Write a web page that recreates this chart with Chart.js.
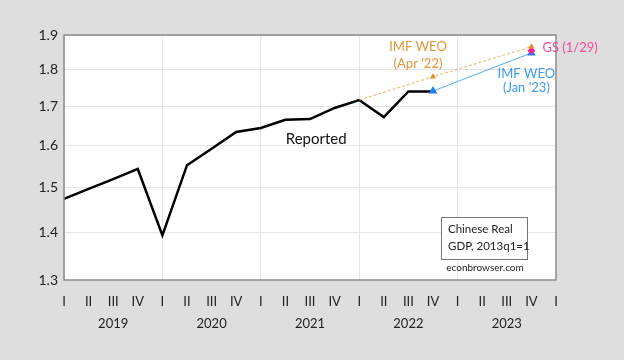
<!DOCTYPE html>
<html>
<head>
<meta charset="utf-8">
<script src="https://cdn.jsdelivr.net/npm/chart.js@4.4.1/dist/chart.umd.min.js"></script>
<style>
  html, body { margin: 0; padding: 0; background: #dedede; }
  #wrap { width: 624px; height: 360px; }
</style>
</head>
<body>
<div id="wrap"><canvas id="gdpChart"></canvas></div>
<script>
// Chinese real GDP, 2013q1=1 (log scale)
const quarters = ['I', 'II', 'III', 'IV', 'I', 'II', 'III', 'IV', 'I', 'II', 'III', 'IV',
    'I', 'II', 'III', 'IV', 'I', 'II', 'III', 'IV', 'I'];
const years = ['2019', '2020', '2021', '2022', '2023'];
const yTicks = [1.3, 1.4, 1.5, 1.6, 1.7, 1.8, 1.9];

const reported = [1.474, 1.497, 1.520, 1.544, 1.393, 1.553, 1.593, 1.635, 1.645, 1.666, 1.668, 1.697,
    1.718, 1.673, 1.741, 1.741, null, null, null, null, null];
const imfApr22 = [null, null, null, null, null, null, null, null, null, null, null, null,
    1.718, null, null, 1.781, null, null, null, 1.866, null];
const imfJan23 = [null, null, null, null, null, null, null, null, null, null, null, null,
    null, null, null, 1.742, null, null, null, 1.848, null];
const gsJan29 = [null, null, null, null, null, null, null, null, null, null, null, null,
    null, null, null, null, null, null, null, 1.854, null];

// year name goes under the III label of each year
const labels = quarters.map(function (q, i) {
    const y = Math.floor(i / 4);
    return (i % 4 === 2 && years[y]) ? [q, years[y]] : q;
});

const FONT = 'Lato, "Open Sans", sans-serif';

const frame = {
    id: 'frame',
    beforeDraw: function (chart) {
        const c = chart.ctx, a = chart.chartArea;
        c.save();
        c.fillStyle = '#dedede';
        c.fillRect(0, 0, chart.width, chart.height);
        c.fillStyle = '#ffffff';
        c.fillRect(a.left, a.top, a.right - a.left, a.bottom - a.top);
        c.restore();
    },
    afterDatasetsDraw: function (chart) {
        const c = chart.ctx, a = chart.chartArea;
        const x = chart.scales.x, y = chart.scales.y;
        c.save();
        c.strokeStyle = '#8a8a8a';
        c.lineWidth = 1.5;
        c.strokeRect(a.left, a.top, a.right - a.left, a.bottom - a.top);

        c.textAlign = 'center';
        c.textBaseline = 'middle';
        c.font = '15px ' + FONT;
        c.fillStyle = '#111';
        c.fillText('Reported', x.getPixelForValue(10.25), y.getPixelForValue(1.618));

        c.font = '13px ' + FONT;
        c.fillStyle = '#e0973a';
        const xo = x.getPixelForValue(15) - 15;
        c.fillText('IMF WEO', xo, y.getPixelForValue(1.866));
        c.fillText("(Apr '22)", xo, y.getPixelForValue(1.816));

        c.fillStyle = '#3d9bf5';
        const xb = x.getPixelForValue(19) - 5;
        c.fillText('IMF WEO', xb, y.getPixelForValue(1.789));
        c.fillText("(Jan '23)", xb, y.getPixelForValue(1.750));

        c.fillStyle = '#ee4a9c';
        c.textAlign = 'left';
        c.fillText('GS (1/29)', x.getPixelForValue(19) + 11, y.getPixelForValue(1.862));

        // note box
        c.fillStyle = '#ffffff';
        c.strokeStyle = '#777';
        c.lineWidth = 1;
        c.fillRect(441, 217, 86, 42);
        c.strokeRect(441.5, 217.5, 86, 42);
        c.fillStyle = '#222';
        c.font = '11.5px ' + FONT;
        c.fillText('Chinese Real', 448, 229);
        c.fillText('GDP, 2013q1=1', 448, 246);
        c.textAlign = 'center';
        c.font = '10px ' + FONT;
        c.fillText('econbrowser.com', 485, 268);
        c.restore();
    }
};

const ctx = document.getElementById('gdpChart').getContext('2d');
const gdpChart = new Chart(ctx, {
    type: 'line',
    data: {
        labels: labels,
        datasets: [{
            label: 'IMF WEO (Apr 22)',
            data: imfApr22,
            borderColor: '#f0b060',
            backgroundColor: '#e58a20',
            borderWidth: 1,
            borderDash: [3, 2],
            spanGaps: true,
            pointStyle: 'triangle',
            pointRadius: function (c) { return c.dataIndex === 12 ? 0 : 3.5; },
            pointBorderWidth: 0,
            order: 1
        }, {
            label: 'GS (1/29)',
            data: gsJan29,
            showLine: false,
            backgroundColor: '#f02a8a',
            borderColor: '#f02a8a',
            pointStyle: 'rectRot',
            pointRadius: 4,
            pointBorderWidth: 0,
            order: 2
        }, {
            label: 'IMF WEO (Jan 23)',
            data: imfJan23,
            borderColor: '#5aaaf5',
            backgroundColor: '#1a7ff0',
            borderWidth: 1,
            spanGaps: true,
            pointStyle: 'triangle',
            pointRadius: 5,
            pointBorderWidth: 0,
            order: 3
        }, {
            label: 'Reported',
            data: reported,
            borderColor: '#000000',
            borderWidth: 2.5,
            pointRadius: 0,
            tension: 0,
            order: 4
        }]
    },
    options: {
        responsive: true,
        maintainAspectRatio: false,
        animation: false,
        layout: { padding: { left: 0, right: 68, top: 35, bottom: 10 } },
        plugins: {
            legend: { display: false },
            tooltip: { enabled: false }
        },
        scales: {
            x: {
                type: 'category',
                offset: false,
                grid: {
                    color: function (c) { return (c.index % 4 === 0) ? '#e6e6e6' : 'rgba(0,0,0,0)'; },
                    drawTicks: false
                },
                border: { display: false },
                ticks: {
                    autoSkip: false,
                    maxRotation: 0,
                    padding: 10,
                    color: '#222',
                    font: { family: FONT, size: 13, lineHeight: 1.75 }
                },
                afterFit: function (s) { s.height = 70; }
            },
            y: {
                type: 'logarithmic',
                min: 1.3,
                max: 1.9,
                afterBuildTicks: function (s) {
                    s.ticks = yTicks.map(function (v) { return { value: v }; });
                },
                grid: { color: '#e6e6e6', drawTicks: false },
                border: { display: false },
                ticks: {
                    padding: 6,
                    color: '#222',
                    font: { family: FONT, size: 14 },
                    callback: function (v) { return Number(v).toFixed(1); }
                },
                afterFit: function (s) { s.width = 64; }
            }
        }
    },
    plugins: [frame]
});
</script>
</body>
</html>
